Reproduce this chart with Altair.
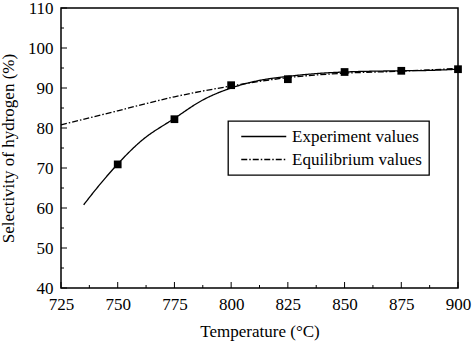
import altair as alt
import pandas as pd

# Measured points
pt_temp = [750, 775, 800, 825, 850, 875, 900]
pt_sel = [70.9, 82.2, 90.7, 92.2, 94.0, 94.3, 94.7]

# Experiment fitted curve
exp_temp = [735, 740, 750, 760, 775, 787.5, 800, 812.5, 825, 837.5, 850, 862.5, 875, 887.5, 900]
exp_sel = [60.8, 64.4, 71.0, 76.6, 82.4, 87.0, 90.0, 91.9, 92.9, 93.6, 94.0, 94.2, 94.3, 94.4, 94.7]

# Equilibrium curve
eq_temp = [725, 750, 775, 800, 825, 850, 875, 900]
eq_sel = [80.8, 84.3, 87.8, 90.5, 92.6, 93.7, 94.2, 94.9]

x_major = [725, 750, 775, 800, 825, 850, 875, 900]
x_minor = [737.5, 762.5, 787.5, 812.5, 837.5, 862.5, 887.5]
y_major = [40, 50, 60, 70, 80, 90, 100, 110]
y_minor = [45, 55, 65, 75, 85, 95, 105]

FONT = "Liberation Serif"
W, H = 397, 280

lines = pd.DataFrame(
    {"T": exp_temp + eq_temp,
     "S": exp_sel + eq_sel,
     "series": ["Experiment values"] * len(exp_temp) + ["Equilibrium values"] * len(eq_temp)}
)
pts = pd.DataFrame({"T": pt_temp, "S": pt_sel})

xs = alt.Scale(domain=[725, 900], nice=False, zero=False)
ys = alt.Scale(domain=[40, 110], nice=False, zero=False)

xax = alt.Axis(values=x_major, ticks=False, grid=False, domain=False, labelFont=FONT,
               labelFontSize=17, labelColor="black", labelPadding=8, title="Temperature (°C)",
               titleFont=FONT, titleFontSize=17, titleFontWeight="normal", titleColor="black",
               titlePadding=11, labelFlush=False, labelOverlap=False)
yax = alt.Axis(values=y_major, ticks=False, grid=False, domain=False, labelFont=FONT,
               labelFontSize=17, labelColor="black", labelPadding=8,
               title="Selectivity of hydrogen (%)", titleFont=FONT, titleFontSize=17,
               titleFontWeight="normal", titleColor="black", titlePadding=10, labelFlush=False,
               labelOverlap=False)

line = alt.Chart(lines).mark_line(color="black", strokeWidth=1.3, interpolate="monotone").encode(
    x=alt.X("T:Q", scale=xs, axis=xax),
    y=alt.Y("S:Q", scale=ys, axis=yax),
    strokeDash=alt.StrokeDash(
        "series:N",
        scale=alt.Scale(domain=["Experiment values", "Equilibrium values"],
                        range=[[1, 0], [6, 2, 1.5, 2]]),
        legend=alt.Legend(
            title=None, orient="none", legendX=167, legendY=113,
            strokeColor="black", padding=7, fillColor="white",
            symbolType="M-0.3,0H5.7", symbolSize=225, symbolStrokeWidth=1.3,
            symbolStrokeColor="black", labelFont=FONT, labelFontSize=17,
            labelColor="black", labelOffset=40, rowPadding=5, cornerRadius=0,
            labelExpr="datum.label + '\u00a0\u00a0'",
        ),
    ),
    detail="series:N",
)

points = alt.Chart(pts).mark_square(color="black", size=60, opacity=1).encode(
    x=alt.X("T:Q", scale=xs, axis=xax), y=alt.Y("S:Q", scale=ys, axis=yax)
)

xmaj = pd.DataFrame({"T": x_major})
xmin = pd.DataFrame({"T": x_minor})
ymaj = pd.DataFrame({"S": y_major})
ymin = pd.DataFrame({"S": y_minor})

xt1 = alt.Chart(xmaj).mark_rule(color="black", strokeWidth=1).encode(
    x=alt.X("T:Q", scale=xs, axis=xax), y=alt.value(H), y2=alt.value(H - 6))
xt2 = alt.Chart(xmin).mark_rule(color="black", strokeWidth=1).encode(
    x=alt.X("T:Q", scale=xs, axis=xax), y=alt.value(H), y2=alt.value(H - 3))
yt1 = alt.Chart(ymaj).mark_rule(color="black", strokeWidth=1).encode(
    y=alt.Y("S:Q", scale=ys, axis=yax), x=alt.value(0), x2=alt.value(6))
yt2 = alt.Chart(ymin).mark_rule(color="black", strokeWidth=1).encode(
    y=alt.Y("S:Q", scale=ys, axis=yax), x=alt.value(0), x2=alt.value(3))

chart = alt.layer(line, points, xt1, xt2, yt1, yt2).properties(
    width=W, height=H,
    autosize=alt.AutoSizeParams(type="none"),
    padding={"left": 61, "top": 8, "right": 16, "bottom": 54},
    background="white",
).configure(font=FONT).configure_view(stroke="black", strokeWidth=1.5).configure_axis(
    labelFont=FONT, titleFont=FONT, labelFontSize=17, titleFontSize=17, labelOverlap=False
).configure_legend(labelFont=FONT, labelFontSize=17, strokeWidth=1.3)

chart.save("out.html", embed_options={"renderer": "svg", "actions": False})
